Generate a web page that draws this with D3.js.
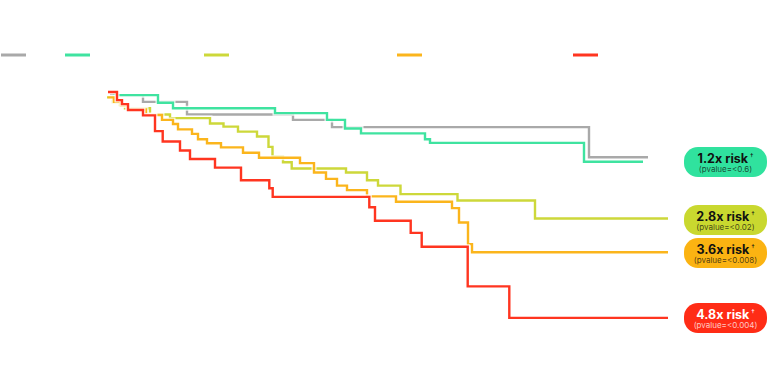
<!DOCTYPE html>
<html>
<head>
<meta charset="utf-8">
<script src="https://cdn.jsdelivr.net/npm/d3@7"></script>
<style>
  html, body { margin: 0; padding: 0; background: #fff; }
  svg { display: block; }
</style>
</head>
<body>
<svg id="chart" width="768" height="392"></svg>
<script>
// ---- data (time in months, survival probability) ----
const seriesNames = ["Gray", "Green", "Yellow", "Orange", "Red"];
const endTimes = [54.1, 53.6, 56.1, 56.1, 56.1];

const grayTimes   = [0.3, 3.6, 8.0, 18.6, 22.5, 48.2];
const grayValues  = [0.993, 0.978, 0.950, 0.938, 0.922, 0.855];

const greenTimes  = [0.6, 5.1, 6.6, 16.8, 22.0, 23.8, 25.4, 31.8, 32.3, 47.7];
const greenValues = [0.993, 0.976, 0.964, 0.953, 0.938, 0.919, 0.908, 0.895, 0.887, 0.845];

const yellowTimes  = [0, 0.6, 1.3, 1.8, 4.3, 6.3, 10.3, 11.65, 13.1, 15.0, 16.15, 16.55, 17.6, 18.47, 23.9, 26.0, 27.1, 29.35, 35.05, 42.8];
const yellowValues = [0.988, 0.977, 0.971, 0.964, 0.950, 0.942, 0.930, 0.923, 0.912, 0.901, 0.878, 0.856, 0.844, 0.830, 0.821, 0.804, 0.792, 0.773, 0.759, 0.719];

const orangeTimes  = [0.1, 0.7, 1.4, 2.1, 3.9, 5.5, 6.6, 7.1, 8.5, 9.1, 10.0, 11.4, 13.6, 15.2, 19.3, 20.7, 21.9, 23.0, 24.0, 26.0, 28.9, 34.5, 35.2, 36.1, 36.5];
const orangeValues = [0.988, 0.978, 0.970, 0.961, 0.949, 0.938, 0.929, 0.917, 0.907, 0.895, 0.886, 0.877, 0.865, 0.854, 0.842, 0.821, 0.807, 0.792, 0.782, 0.768, 0.756, 0.742, 0.710, 0.662, 0.644];

const redTimes  = [0.1, 1.0, 1.5, 2.1, 3.6, 4.8, 5.57, 7.3, 8.3, 10.8, 13.4, 16.23, 16.57, 26.23, 26.8, 30.37, 31.47, 36.07, 40.23];
const redValues = [1.000, 0.982, 0.973, 0.960, 0.948, 0.913, 0.890, 0.870, 0.851, 0.832, 0.804, 0.786, 0.767, 0.744, 0.714, 0.687, 0.656, 0.568, 0.498];

const riskLabels   = [null, "1.2x risk", "2.8x risk", "3.6x risk", "4.8x risk"];
const pvalueLabels = [null, "(pvalue=<0.6)", "(pvalue=<0.02)", "(pvalue=<0.008)", "(pvalue=<0.004)"];

const lineColors  = ["#a9a9a9", "#3fe3a0", "#cdd83a", "#fbb51c", "#ff3520"];
const badgeColors = [null, "#30e29e", "#c9d82f", "#fbb312", "#ff2c16"];
const badgeText   = [null, "#111", "#111", "#111", "#fff"];
const badgeTops   = [null, 147, 205, 238, 303];

// ---- layout ----
const svg = d3.select("#chart");
const x = d3.scaleLinear().domain([0, 56.1]).range([107, 668]);
const y = d3.scaleLinear().domain([0.5, 1]).range([317, 92]);

const allTimes = [grayTimes, greenTimes, yellowTimes, orangeTimes, redTimes];
const allValues = [grayValues, greenValues, yellowValues, orangeValues, redValues];

const series = seriesNames.map((name, i) => {
  const pts = allTimes[i].map((t, j) => ({ t, s: allValues[i][j] }));
  pts.push({ t: endTimes[i], s: allValues[i][allValues[i].length - 1] });
  return { name, pts, color: lineColors[i] };
});

const line = d3.line().x(d => x(d.t)).y(d => y(d.s)).curve(d3.curveStepAfter);

// legend swatches
const legendX = [1, 65, 204, 397, 573];
svg.append("g").selectAll("line").data(series).join("line")
  .attr("x1", (d, i) => legendX[i]).attr("x2", (d, i) => legendX[i] + 25)
  .attr("y1", 55).attr("y2", 55)
  .attr("stroke", d => d.color).attr("stroke-width", 3);

// lines with white halo
const g = svg.append("g");
series.forEach(s => {
  g.append("path").datum(s.pts).attr("d", line)
    .attr("fill", "none").attr("stroke", "#fff").attr("stroke-width", 5)
    .attr("stroke-opacity", 0.8);
  g.append("path").datum(s.pts).attr("d", line)
    .attr("fill", "none").attr("stroke", s.color).attr("stroke-width", 2.4);
});

// badges
const bx = 684, bw = 83, bh = 30;
series.forEach((s, i) => {
  if (!riskLabels[i]) return;
  const top = badgeTops[i];
  const bg = svg.append("g");
  bg.append("rect").attr("x", bx).attr("y", top).attr("width", bw).attr("height", bh)
    .attr("rx", 14).attr("ry", 14).attr("fill", badgeColors[i]);
  const t = bg.append("text").attr("x", bx + bw / 2).attr("y", top + 15.5)
    .attr("text-anchor", "middle")
    .attr("font-family", "Inter, 'Noto Sans', sans-serif")
    .attr("font-weight", 700).attr("font-size", 12.5).attr("fill", badgeText[i]);
  t.append("tspan").text(riskLabels[i]);
  t.append("tspan").text(" †").attr("font-size", 7).attr("font-weight", 400).attr("dy", -4);
  bg.append("text").attr("x", bx + bw / 2).attr("y", top + 25)
    .attr("text-anchor", "middle")
    .attr("font-family", "Inter, 'Noto Sans', sans-serif")
    .attr("font-size", 8).attr("fill", badgeText[i]).attr("fill-opacity", 0.75)
    .text(pvalueLabels[i]);
});
</script>
</body>
</html>
